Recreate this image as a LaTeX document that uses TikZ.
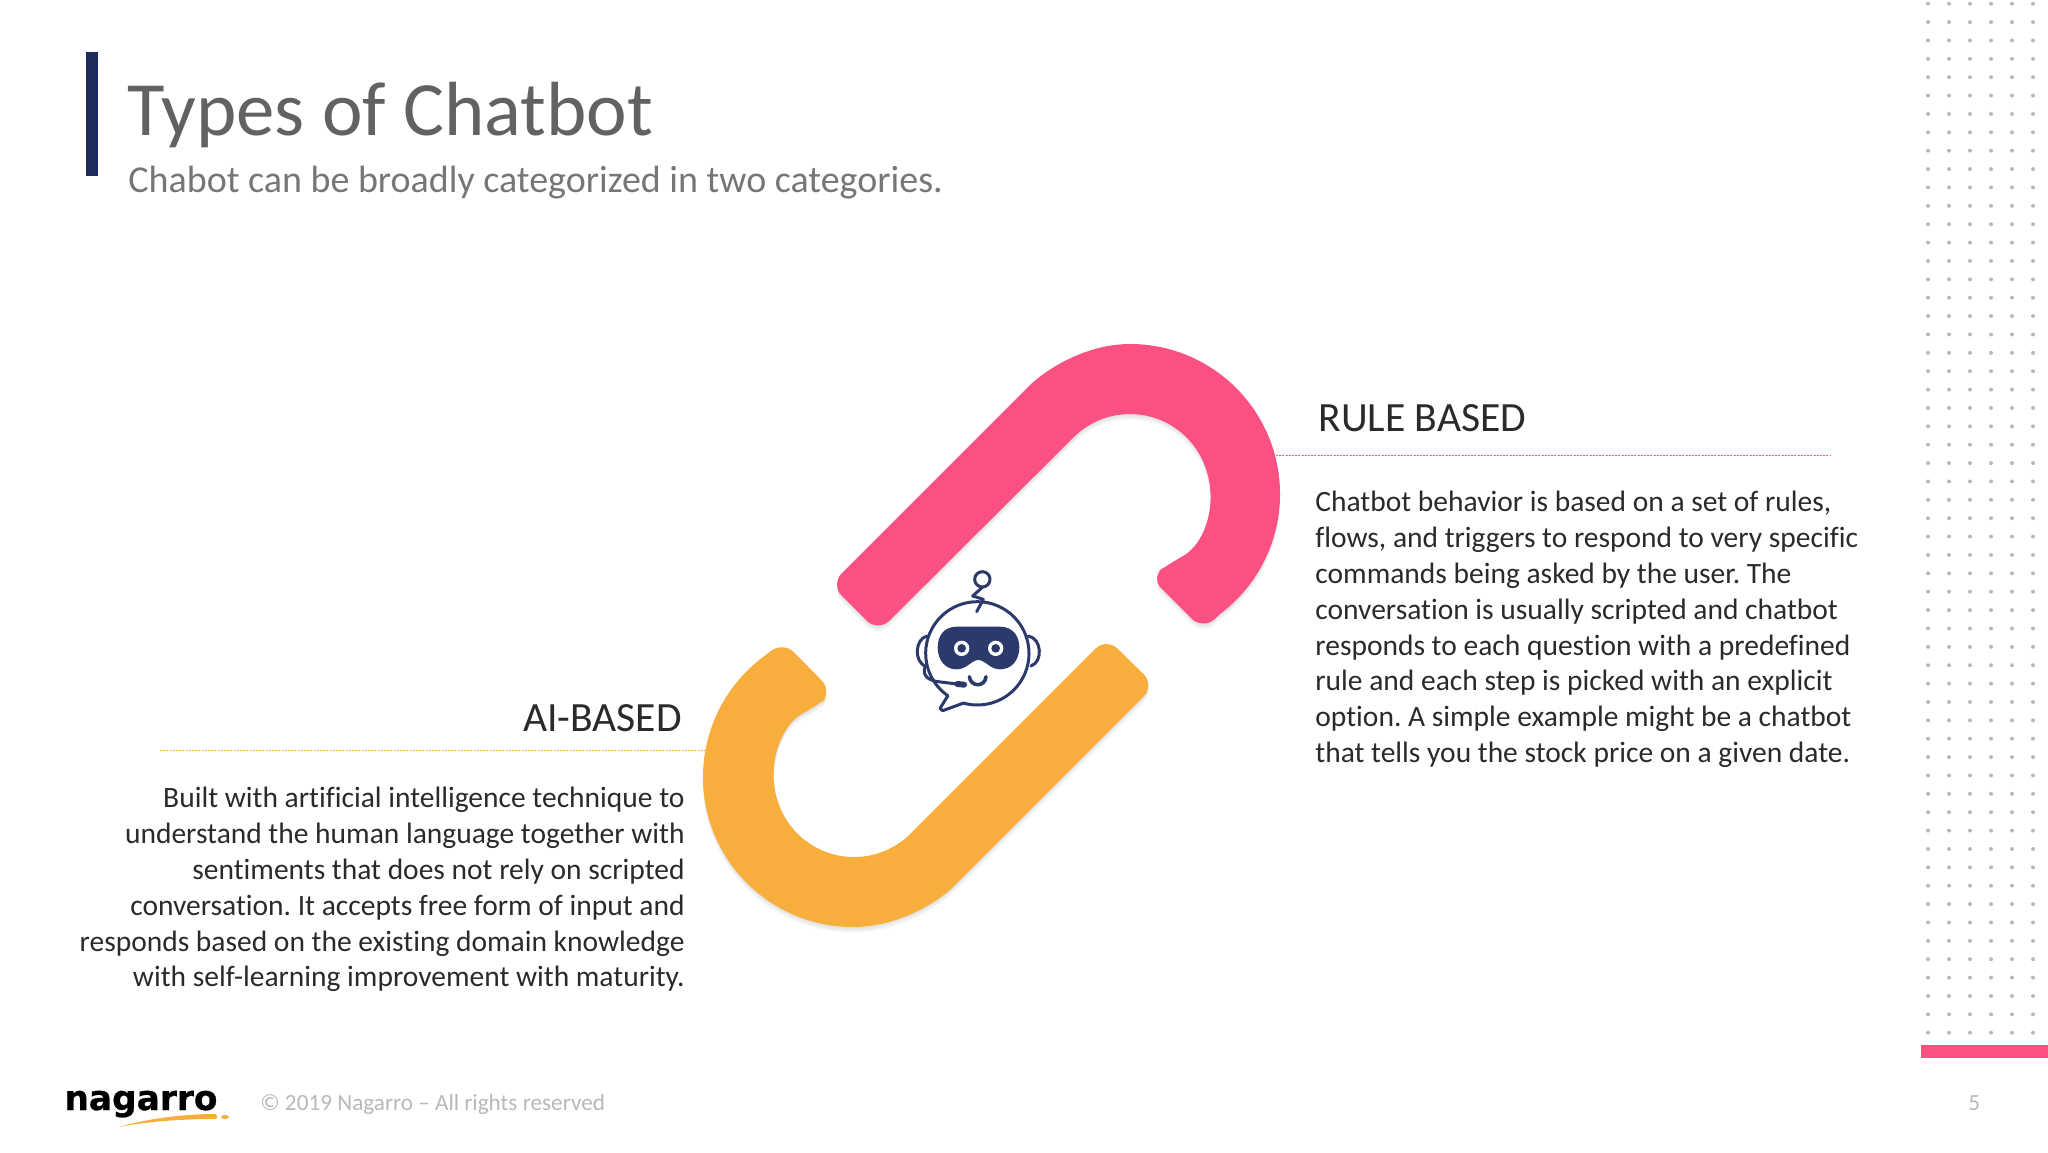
\documentclass[tikz,border=0pt]{standalone}
\usepackage{fontspec}
\setmainfont[Ligatures={NoRequired,NoCommon,NoContextual}]{Carlito}
\newfontfamily\logofont[UprightFont=* Bold,FakeBold=.8]{DejaVu Sans}
\frenchspacing
\usetikzlibrary{positioning}
\definecolor{navybar}{HTML}{1F2D5C}
\definecolor{robotblue}{HTML}{2B3A6B}
\definecolor{linkpink}{HTML}{FB5082}
\definecolor{linkorange}{HTML}{F8AE3C}
\definecolor{titlegrey}{HTML}{626262}
\definecolor{subgrey}{HTML}{767676}
\definecolor{bodyblack}{HTML}{2A2A2A}
\definecolor{footgrey}{HTML}{B8B8B8}
\tikzset{
    titletext/.style={anchor=base west,inner sep=0pt,text=titlegrey,font=\fontsize{38.4}{42}\selectfont},
    subtext/.style={anchor=base west,inner sep=0pt,text=subgrey,font=\fontsize{19}{22}\selectfont},
    headtext/.style={inner sep=0pt,text=bodyblack,font=\fontsize{20.8}{24}\selectfont},
    bodytext/.style={inner sep=0pt,text=bodyblack,font=\fontsize{14.75}{17.9}\selectfont},
    foottext/.style={anchor=base west,inner sep=0pt,text=footgrey,font=\fontsize{11.6}{14}\selectfont},
    ruleline/.style={line width=.5pt,dash pattern=on 1pt off .6pt},
    robotline/.style={draw=robotblue,line width=1.5pt,line cap=round,line join=round},
    linkshadow/.style={fill=black,opacity=.02},
}
\newcommand{\pinklink}{(853.5,607.5) [rounded corners=8pt] -- (830.5,584.5) -- (1017,398) [sharp corners]
    .. controls (1045,370) and (1085,344) .. (1130,344)
    arc[start angle=270,end angle=413,radius=150] [rounded corners=8pt] -- (1203,630) -- (1150,577) -- (1169.3,563.7) [sharp corners]
    arc[start angle=420.6,end angle=225,radius=80] [rounded corners=8pt] -- (878,632) -- cycle}
\newcommand{\orangelink}{(1130.5,661.5) [rounded corners=8pt] -- (1155,685) -- (965,875) [sharp corners]
    .. controls (937,903) and (897,927) .. (853,927)
    arc[start angle=90,end angle=234.9,radius=150] [rounded corners=8pt] -- (783,641) -- (833,692) -- (818.2,705.5) [sharp corners]
    arc[start angle=243.4,end angle=45,radius=80] [rounded corners=8pt] -- (1106.5,637.5) -- cycle}
\begin{document}
\begin{tikzpicture}[x=.5pt,y=.5pt,yscale=-1]
    \useasboundingbox (0,0) rectangle (2048,1152);
    % header
    \fill[navybar] (86,52) rectangle (98,176);
    \node[titletext] (title) at (127,135) {Types of Chatbot};
    \node[subtext] (subtitle) at (128,192) {Chabot can be broadly categorized in two categories.};
    % dots on the right
    \foreach \col in {0,...,5}
        \foreach \row in {0,...,56}
            \fill[black!28] ({1928+21*\col},{3.7+18.375*\row}) circle (1pt);
    \fill[linkpink] (1921,1045) rectangle (2048,1058);
    \node[foottext] (pagenum) at (1968,1110) {5};
    % the two links
    \foreach \off in {1,2,3,4,5,6}{
        \fill[linkshadow,yshift=\off*.5pt] \pinklink;
        \fill[linkshadow,yshift=\off*.5pt] \orangelink;
    }
    \fill[linkpink] \pinklink;
    \fill[linkorange] \orangelink;
    % right column
    \coordinate (rulea) at (1276,455);
    \coordinate (ruleb) at (1830,455);
    \draw[ruleline,linkpink] (rulea) -- (ruleb);
    \node[headtext,anchor=base west] (rulehead) at (1318,431) {RULE BASED};
    \node[bodytext,anchor=north west,align=left] (rulebody) at (1315,491) {Chatbot behavior is based on a set of rules,\\
        flows, and triggers to respond to very specific\\
        commands being asked by the user. The\\
        conversation is usually scripted and chatbot\\
        responds to each question with a predefined\\
        rule and each step is picked with an explicit\\
        option. A simple example might be a chatbot\\
        that tells you the stock price on a given date.};
    % left column
    \coordinate (aia) at (160,750);
    \coordinate (aib) at (706,750);
    \draw[ruleline,linkorange] (aia) -- (aib);
    \node[headtext,anchor=base east] (aihead) at (682,731) {AI-BASED};
    \node[bodytext,anchor=north east,align=right] (aibody) at (685,787) {Built with artificial intelligence technique to\\
        understand the human language together with\\
        sentiments that does not rely on scripted\\
        conversation. It accepts free form of input and\\
        responds based on the existing domain knowledge\\
        with self-learning improvement with maturity.};
    % robot, in units of a third of a pixel
    \begin{scope}[shift={(900,560)},scale=1/3]
        \draw[robotline] (232,280) ++(124.8:155) arc[start angle=124.8,end angle=465.6,radius=155]
            -- (128,452) -- (120,445) -- cycle;
        \draw[robotline] (247,58) circle (23);
        \draw[robotline] (247,82) -- (218,108) -- (250,118) -- (230,155);
        \draw[robotline] (82,228) .. controls (45,235) and (40,305) .. (78,320);
        \draw[robotline] (385,228) .. controls (425,235) and (430,305) .. (393,318);
        \draw[robotline] (75,320) .. controls (65,350) and (90,362) .. (115,365) -- (170,372);
        \draw[robotline,line width=3pt] (172,372) -- (192,374);
        \draw[robotline,line width=1.8pt] (208,350) .. controls (212,382) and (255,382) .. (258,350);
        \fill[robotblue] (170,200) -- (300,200) .. controls (340,200) and (358,230) .. (358,262)
            .. controls (358,300) and (335,328) .. (300,328) .. controls (270,328) and (255,300) .. (235,300)
            .. controls (215,300) and (200,328) .. (170,328) .. controls (135,328) and (113,300) .. (113,262)
            .. controls (113,230) and (130,200) .. (170,200) -- cycle;
        \foreach \eyex in {185,287}{
            \fill[white] (\eyex,265) circle (23);
            \fill[robotblue] (\eyex,265) circle (13);
        }
    \end{scope}
    % footer
    \node[anchor=base west,inner sep=0pt,text=black,font=\logofont\fontsize{17.2}{20}\selectfont] (logo) at (64,1110) {nagarro};
    \fill[linkorange] (119,1127) .. controls (150,1118) and (185,1114) .. (216,1114)
        .. controls (218,1116) and (218,1118) .. (215,1119) .. controls (185,1119) and (150,1121) .. (119,1127) -- cycle;
    \fill[linkorange] (225,1117) ellipse (4 and 2);
    \node[foottext] (copyright) at (260,1110.5) {© 2019 Nagarro – All rights reserved};
\end{tikzpicture}
\end{document}
